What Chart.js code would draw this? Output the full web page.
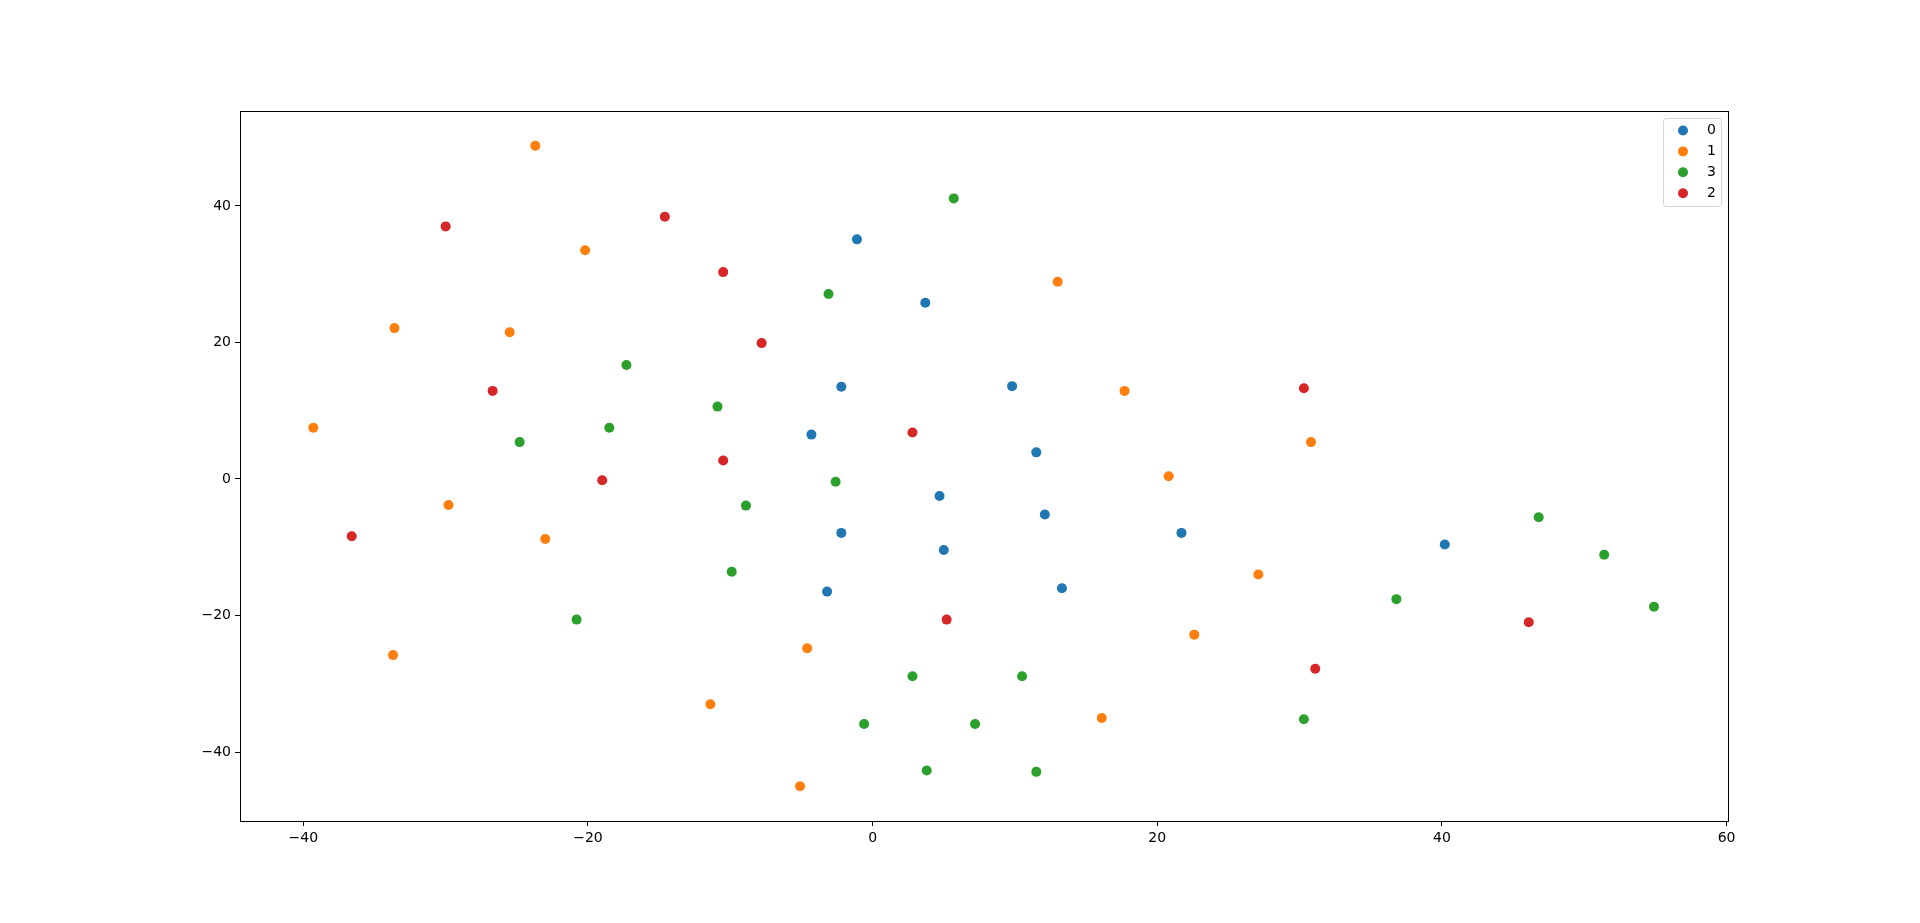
<!DOCTYPE html>
<html>
<head>
<meta charset="utf-8">
<script src="https://cdn.jsdelivr.net/npm/chart.js@4.4.1/dist/chart.umd.min.js"></script>
<style>
  html, body { margin: 0; padding: 0; background: #fff; }
  #wrap { width: 1920px; height: 923px; }
</style>
</head>
<body>
<div id="wrap"><canvas id="myChart"></canvas></div>
<script>
// scatter classes, [x, y]
var labels = ['0', '1', '3', '2'];
var colors = ['#1f77b4', '#ff7f0e', '#2ca02c', '#d62728'];

var class0 = [
    [-1.1, 35.1], [3.7, 25.8], [-2.2, 13.5], [9.8, 13.6], [-4.3, 6.5],
    [11.5, 3.9], [4.7, -2.5], [12.1, -5.2], [-2.2, -7.9], [21.7, -7.9],
    [5.0, -10.4], [40.2, -9.6], [-3.2, -16.5], [13.3, -16.0]
];
var class1 = [
    [-23.7, 48.8], [-20.2, 33.5], [13.0, 28.9], [-33.6, 22.1], [-25.5, 21.5],
    [17.7, 12.9], [-39.3, 7.5], [30.8, 5.4], [20.8, 0.4], [-29.8, -3.8],
    [-23.0, -8.8], [27.1, -14.0], [22.6, -22.8], [-4.6, -24.8], [-33.7, -25.8],
    [-11.4, -33.0], [16.1, -35.0], [-5.1, -45.0]
];
var class3 = [
    [5.7, 41.1], [-3.1, 27.1], [-17.3, 16.7], [-10.9, 10.6], [-18.5, 7.5],
    [-24.8, 5.4], [-2.6, -0.4], [-8.9, -3.9], [46.8, -5.6], [51.4, -11.1],
    [-9.9, -13.6], [36.8, -17.6], [54.9, -18.7], [-20.8, -20.6], [2.8, -28.9],
    [10.5, -28.9], [-0.6, -35.9], [7.2, -35.9], [30.3, -35.2], [3.8, -42.7],
    [11.5, -42.9]
];
var class2 = [
    [-30.0, 37.0], [-14.6, 38.4], [-10.5, 30.3], [-7.8, 19.9], [-26.7, 12.9],
    [30.3, 13.3], [2.8, 6.8], [-10.5, 2.7], [-19.0, -0.2], [-36.6, -8.4],
    [5.2, -20.6], [46.1, -21.0], [31.1, -27.8]
];
var series = [class0, class1, class3, class2];

var xTicks = [-40, -20, 0, 20, 40, 60];
var yTicks = [-40, -20, 0, 20, 40];

var font = { family: '"DejaVu Sans", sans-serif', size: 14 };

function minus(v) {
    return String(v).replace('-', '\u2212');
}

var datasets = series.map(function(pts, i) {
    return {
        label: labels[i],
        data: pts.map(function(p) { return { x: p[0], y: p[1] }; }),
        backgroundColor: colors[i],
        borderWidth: 0,
        pointRadius: 5,
        pointHoverRadius: 5
    };
});

// box around the plot plus matplotlib-like legend in the corner
var framePlugin = {
    id: 'frame',
    afterDraw: function(chart) {
        var ctx = chart.ctx;
        var a = chart.chartArea;
        ctx.save();
        ctx.strokeStyle = '#000';
        ctx.lineWidth = 1;
        ctx.strokeRect(Math.round(a.left) + 0.5, Math.round(a.top) + 0.5,
            Math.round(a.right - a.left), Math.round(a.bottom - a.top));

        var bx = a.right - 65, by = a.top + 7, bw = 58, bh = 88;
        ctx.beginPath();
        ctx.roundRect(bx + 0.5, by + 0.5, bw, bh, 3);
        ctx.fillStyle = 'rgba(255,255,255,0.8)';
        ctx.fill();
        ctx.strokeStyle = '#d5d5d5';
        ctx.stroke();

        ctx.font = '14px "DejaVu Sans", sans-serif';
        ctx.textBaseline = 'middle';
        ctx.textAlign = 'left';
        chart.data.datasets.forEach(function(ds, i) {
            var ry = by + 12.5 + i * 20.9;
            ctx.beginPath();
            ctx.arc(bx + 20, ry, 5, 0, Math.PI * 2);
            ctx.fillStyle = ds.backgroundColor;
            ctx.fill();
            ctx.fillStyle = '#000';
            ctx.fillText(ds.label, bx + 44, ry);
        });
        ctx.restore();
    }
};

var ctx = document.getElementById('myChart').getContext('2d');
var myChart = new Chart(ctx, {
    type: 'scatter',
    data: { datasets: datasets },
    options: {
        responsive: true,
        maintainAspectRatio: false,
        devicePixelRatio: 1,
        animation: false,
        events: [],
        layout: { padding: { top: 111, right: 192, bottom: 0, left: 0 } },
        plugins: {
            legend: { display: false },
            tooltip: { enabled: false }
        },
        scales: {
            x: {
                type: 'linear',
                min: -44.45,
                max: 60.1,
                afterFit: function(scale) { scale.height = 102; },
                afterBuildTicks: function(scale) {
                    scale.ticks = xTicks.map(function(v) { return { value: v }; });
                },
                grid: { drawOnChartArea: false, drawTicks: true, tickLength: 5, color: '#000' },
                border: { display: true, color: '#000' },
                ticks: {
                    includeBounds: false,
                    color: '#000',
                    font: font,
                    padding: 4,
                    maxRotation: 0,
                    callback: function(v) { return minus(v); }
                }
            },
            y: {
                type: 'linear',
                min: -50.1,
                max: 53.9,
                afterFit: function(scale) { scale.width = 240; },
                afterBuildTicks: function(scale) {
                    scale.ticks = yTicks.map(function(v) { return { value: v }; });
                },
                grid: { drawOnChartArea: false, drawTicks: true, tickLength: 5, color: '#000' },
                border: { display: true, color: '#000' },
                ticks: {
                    includeBounds: false,
                    color: '#000',
                    font: font,
                    padding: 4,
                    callback: function(v) { return minus(v); }
                }
            }
        }
    },
    plugins: [framePlugin]
});
</script>
</body>
</html>
